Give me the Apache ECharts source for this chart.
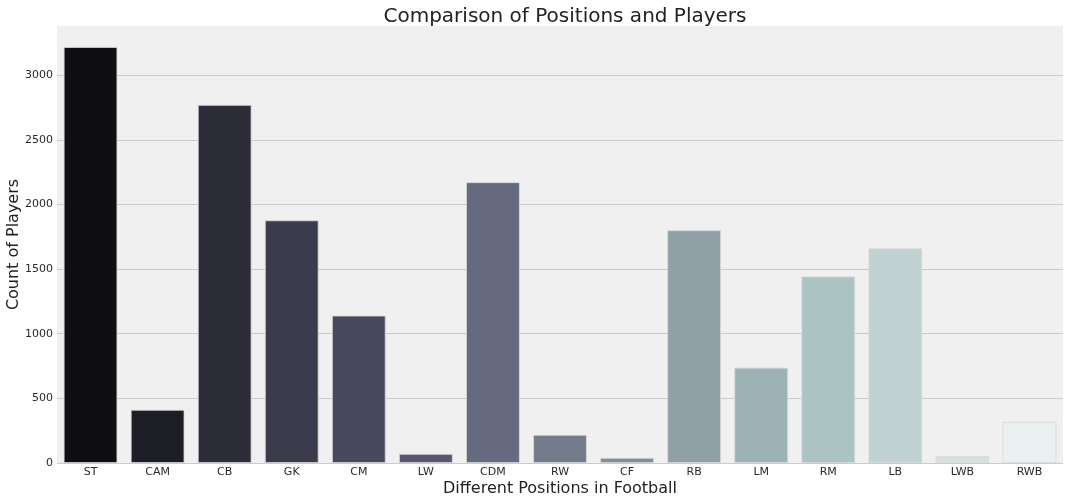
<!DOCTYPE html>
<html><head><meta charset="utf-8">
<script src="https://cdn.jsdelivr.net/npm/echarts@6/dist/echarts.min.js"></script>
<style>html,body{margin:0;padding:0;background:#fff}#c{width:1069px;height:502px}</style>
</head><body><div id="c"></div>
<script>
const categories = ['ST','CAM','CB','GK','CM','LW','CDM','RW','CF','RB','LM','RM','LB','LWB','RWB'];
const counts = [3218, 411, 2770, 1877, 1140, 70, 2172, 217, 39, 1800, 737, 1443, 1660, 54, 318];
const barColors = ['#0f0f12','#1d1d26','#2c2c38','#3b3b4b','#49495e','#585870','#656a7e','#747c8b','#828e99','#8fa0a7','#9db2b5','#acc3c3','#c1d2d2','#d5e1e1','#eaf0f0'];
const yTicks = [0, 500, 1000, 1500, 2000, 2500, 3000];
const yMax = 3381;

const chart = echarts.init(document.getElementById('c'), null, {renderer: 'canvas'});
const font = 'DejaVu Sans';
const gridColors = yTicks.map(() => '#cbcbcb').concat(['#f0f0f0']);
chart.setOption({
  backgroundColor: '#ffffff',
  animation: false,
  title: {
    text: 'Comparison of Positions and Players',
    left: 560, textAlign: 'center', top: 2,
    textStyle: {fontFamily: font, fontSize: 20, fontWeight: 'normal', color: '#222222'}
  },
  grid: {left: 57, right: 6, top: 26, bottom: 39, show: true, backgroundColor: '#f0f0f0', borderWidth: 0,
    containLabel: false, outerBoundsMode: 'none'},
  xAxis: {
    type: 'category', data: categories,
    axisLine: {show: false}, axisTick: {show: false},
    axisLabel: {fontFamily: font, fontSize: 11, color: '#2a2a2a', margin: 4},
    name: 'Different Positions in Football', nameLocation: 'middle', nameGap: 26, nameMoveOverlap: false,
    nameTextStyle: {fontFamily: font, fontSize: 16, color: '#222222', verticalAlign: 'middle'}
  },
  yAxis: {
    type: 'value', min: 0, max: yMax, interval: 500,
    axisLine: {show: false}, axisTick: {show: false},
    axisLabel: {fontFamily: font, fontSize: 11, color: '#2a2a2a', margin: 4, showMaxLabel: false,
      formatter: v => (yTicks.indexOf(v) >= 0 ? String(v) : '')},
    splitLine: {show: true, lineStyle: {color: gridColors, width: 1}},
    name: 'Count of Players', nameLocation: 'middle', nameGap: 43, nameRotate: 90, nameMoveOverlap: false,
    nameTextStyle: {fontFamily: font, fontSize: 16, color: '#222222', verticalAlign: 'middle'}
  },
  series: [{
    type: 'bar', barWidth: '80%',
    data: counts.map((v, i) => ({value: v, itemStyle: {color: barColors[i]}})),
    itemStyle: {borderColor: '#d8d8d8', borderWidth: 0.8}
  }]
});
</script></body></html>
